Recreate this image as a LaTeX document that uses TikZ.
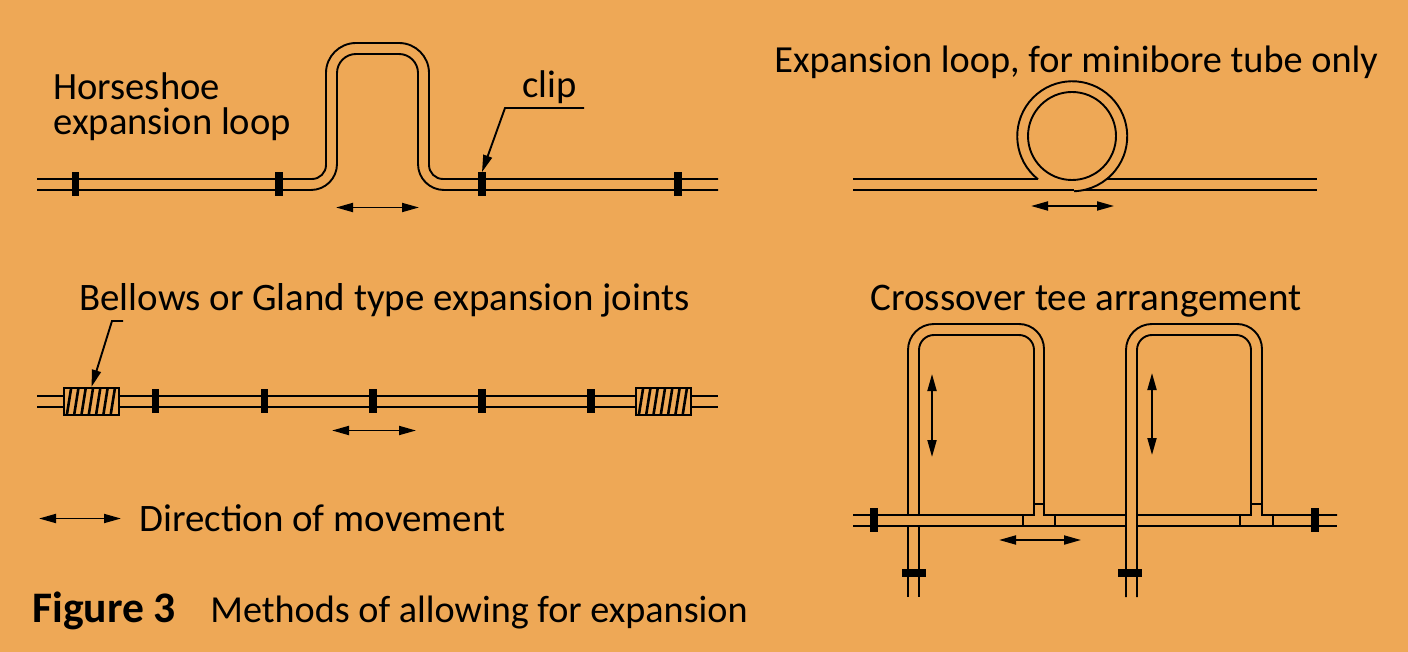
\documentclass[tikz,border=0pt]{standalone}
\usepackage{fontspec}
\setmainfont{Carlito}
\usetikzlibrary{arrows.meta}
\definecolor{panel}{RGB}{238,168,86}
\tikzset{
    pipeline/.style={line width=0.95pt},
    txt/.style={anchor=base west, inner sep=0pt, font=\fontsize{#1}{24}\selectfont},
    txt/.default=19.3,
    clipv/.style={fill=black, inner sep=0pt, minimum width=3.75pt, minimum height=12pt},
    cliph/.style={fill=black, inner sep=0pt, minimum width=12pt, minimum height=3.75pt},
    bellows/.style={draw, fill=panel, line width=1.1pt, inner sep=0pt, minimum width=27.5pt, minimum height=13.5pt},
    hatch/.style={line width=1.3pt},
    move/.style={line width=0.95pt, {Triangle[length=8.5pt,width=4.5pt]}-{Triangle[length=8.5pt,width=4.5pt]}},
    leader/.style={line width=0.95pt, -{Triangle[length=8.5pt,width=4.5pt]}}
}
\begin{document}
\begin{tikzpicture}[x=0.5pt,y=-0.5pt]
        \useasboundingbox (0, 0) rectangle (1408, 652);
        \fill[panel] (0, 0) rectangle (1408, 652);

        % horseshoe loop
        \draw[pipeline] (37, 179) -- (312, 179) arc[start angle=90, end angle=0, radius=14] -- (326, 73)
            arc[start angle=180, end angle=270, radius=30] -- (399, 43)
            arc[start angle=270, end angle=360, radius=30] -- (429, 165)
            arc[start angle=180, end angle=90, radius=14] -- (718, 179);
        \draw[pipeline] (37, 190) -- (311, 190) arc[start angle=90, end angle=0, radius=26] -- (337, 73)
            arc[start angle=180, end angle=270, radius=19] -- (399, 54)
            arc[start angle=270, end angle=360, radius=19] -- (418, 164)
            arc[start angle=180, end angle=90, radius=26] -- (718, 190);
        \node[clipv] (h1) at (75.5, 184.5) {};
        \node[clipv] (h2) at (279, 184.5) {};
        \node[clipv] (h3) at (482, 184.5) {};
        \node[clipv] (h4) at (678, 184.5) {};
        \draw[move] (336, 207.5) -- (419, 207.5);
        \node[txt] (horse1) at (53, 100) {Horseshoe};
        \node[txt] (horse2) at (53, 135) {expansion loop};
        \node[txt] (cliptext) at (522, 98) {clip};
        \coordinate (clipend) at (584, 108);
        \coordinate (clipbend) at (505, 108);
        \draw[leader] (clipend) -- (clipbend) -- (h3.north);

        % minibore loop
        \draw[pipeline] (853, 179) -- (1038, 179);
        \draw[pipeline] (1106, 179) -- (1317, 179);
        \draw[pipeline] (853, 190) -- (1074, 190);
        \draw[pipeline] (1083, 190) -- (1317, 190);
        \draw[pipeline] (1072, 136) circle[radius=44];
        \draw[pipeline] (1038, 179.3) arc[start angle=128.5, end angle=448, radius=55];
        \draw[move] (1031, 206) -- (1114, 206);
        \node[txt=19.15] (minitext) at (774, 73) {Expansion loop, for minibore tube only};

        % bellows or gland joints
        \draw[pipeline] (37, 396) -- (718, 396);
        \draw[pipeline] (37, 407) -- (718, 407);
        \node[bellows] (b1) at (91.5, 401.5) {};
        \node[bellows] (b2) at (663.5, 401.5) {};
        \foreach \hx in {0,...,6} {
            \draw[hatch] (71+7.3*\hx, 389) -- (67+7.3*\hx, 414);
            \draw[hatch] (643+7.3*\hx, 389) -- (639+7.3*\hx, 414);
        }
        \foreach \px/\pn in {155.5/g1, 264.5/g2, 373/g3, 482/g4, 591/g5} {
            \node[clipv] (\pn) at (\px, 401) {};
        }
        \draw[move] (332, 430.5) -- (416, 430.5);
        \node[txt=19.45] (belltext) at (79, 311) {Bellows or Gland type expansion joints};
        \coordinate (bellend) at (123, 321);
        \coordinate (bellbend) at (112, 321);
        \draw[leader] (bellend) -- (bellbend) -- (b1.north);

        % crossover tee, left loop
        \draw[pipeline] (908, 515) -- (908, 350) arc[start angle=180, end angle=270, radius=26] -- (1019, 324)
            arc[start angle=270, end angle=360, radius=25] -- (1044, 515) -- (1126, 515);
        \draw[pipeline] (919, 515) -- (919, 350) arc[start angle=180, end angle=270, radius=15] -- (1019, 335)
            arc[start angle=270, end angle=360, radius=15] -- (1034, 515) -- (853, 515);
        \draw[pipeline] (908, 526) -- (908, 597);
        \draw[pipeline] (919, 526) -- (919, 597);
        \draw[pipeline] (1034, 504) -- (1044, 504);
        \draw[pipeline] (1023, 515) -- (1023, 526);
        \draw[pipeline] (1055, 515) -- (1055, 526);

        % crossover tee, right loop
        \draw[pipeline] (1126, 597) -- (1126, 350) arc[start angle=180, end angle=270, radius=26] -- (1237, 324)
            arc[start angle=270, end angle=360, radius=25] -- (1262, 515) -- (1337, 515);
        \draw[pipeline] (1137, 597) -- (1137, 350) arc[start angle=180, end angle=270, radius=15] -- (1236, 335)
            arc[start angle=270, end angle=360, radius=15] -- (1251, 515) -- (1137, 515);
        \draw[pipeline] (1251, 504) -- (1262, 504);
        \draw[pipeline] (1240, 515) -- (1240, 526);
        \draw[pipeline] (1273, 515) -- (1273, 526);
        \draw[pipeline] (853, 526) -- (1126, 526);
        \draw[pipeline] (1137, 526) -- (1337, 526);
        \node[clipv] (t1) at (874, 520) {};
        \node[clipv] (t2) at (1315, 520) {};
        \node[cliph] (t3) at (914, 573) {};
        \node[cliph] (t4) at (1130, 573) {};
        \draw[move] (999, 540) -- (1081, 540);
        \draw[move] (932, 374) -- (932, 457);
        \draw[move] (1152, 373) -- (1152, 455);
        \node[txt=19.55] (crosstext) at (870, 310) {Crossover tee arrangement};

        % key and caption
        \draw[move] (39, 518.5) -- (121, 518.5);
        \node[txt=19.45] (keytext) at (139, 531) {Direction of movement};
        \node[txt, font=\fontsize{21.8}{24}\selectfont\bfseries] (figtext) at (32, 622) {Figure 3};
        \node[txt=19.1] (captext) at (210, 622) {Methods of allowing for expansion};
\end{tikzpicture}
\end{document}
